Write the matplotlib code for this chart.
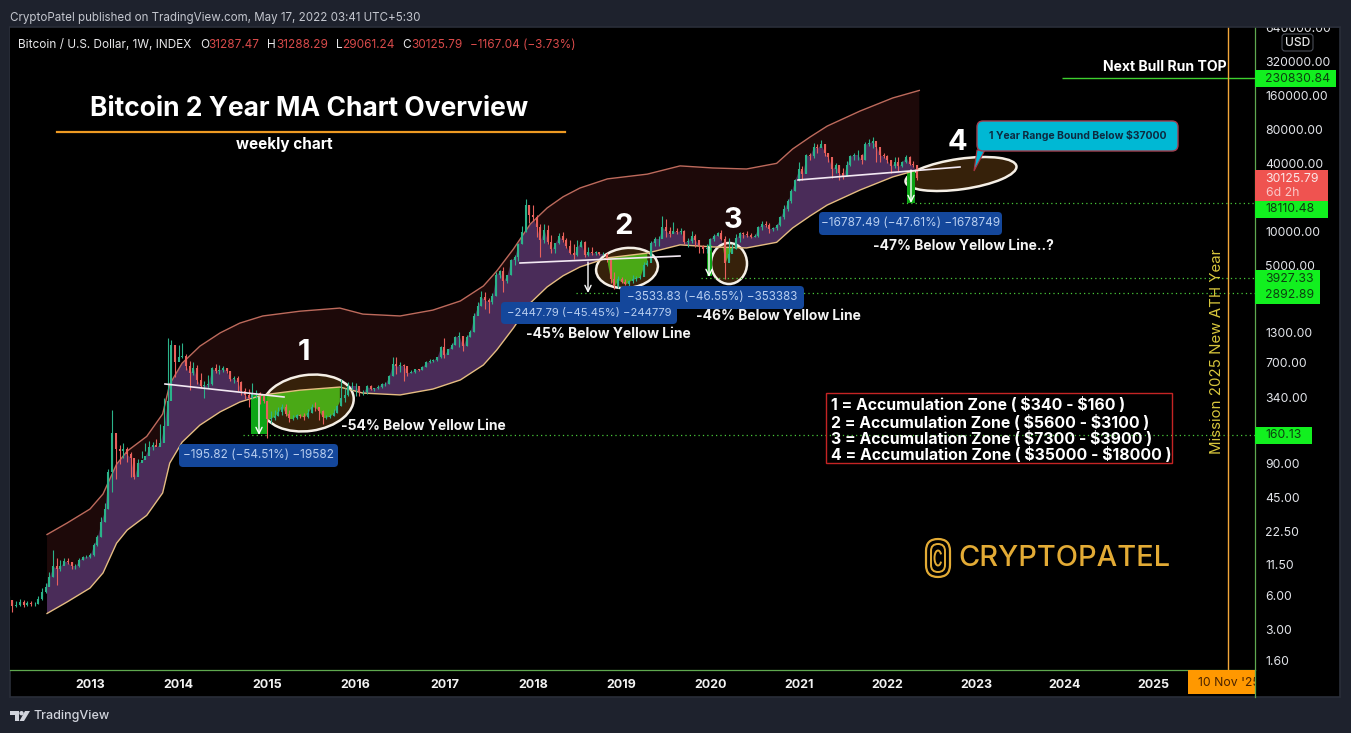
import numpy as np
import matplotlib
matplotlib.use("Agg")
import matplotlib.pyplot as plt
from matplotlib.patches import Rectangle, Ellipse, FancyBboxPatch, Polygon, Arc, Circle
from matplotlib.transforms import Affine2D, Bbox

plt.rcParams['font.family'] = ['Inter', 'DejaVu Sans']

W, H = 1351, 733

# ---------- price data (semi-monthly) ----------
close_2012 = [5.5, 4.9, 5.0, 5.3, 5.0, 5.2, 5.1, 5.1, 5.6, 6.5, 7.2, 8.9, 11, 10.5, 11, 12.2, 12, 11, 11, 12.4, 13.3, 13.4]
high_2012 = [6, 5.5, 5.4, 5.6, 5.5, 5.4, 5.4, 5.3, 6.0, 7, 7.8, 9.8, 15.4, 13, 12.5, 12.9, 13, 12, 11.5, 13, 13.6, 13.7]
low_2012 = [4.7, 4.3, 4.8, 4.9, 4.8, 4.9, 4.9, 4.9, 5.1, 5.5, 6.4, 7.4, 8.8, 7.5, 10, 11.5, 11.5, 10.5, 10.3, 10.9, 12.5, 13]
close_2013 = [13.7, 17, 20, 27, 35, 75, 165, 120, 115, 120, 108, 100, 68, 90, 95, 105, 125, 130, 125, 135, 190, 320, 1000, 700]
high_2013 = [14.5, 17.5, 21, 30, 40, 80, 266, 145, 130, 135, 125, 112, 97, 98, 115, 135, 140, 138, 147, 200, 340, 1163, 1100, 760]
low_2013 = [13, 13.5, 16.5, 20, 27, 35, 50, 65, 88, 100, 92, 68, 65, 88, 100, 115, 120, 118, 128, 135, 190, 320, 450, 520]
close_2014 = [780, 800, 650, 560, 630, 490, 430, 440, 450, 620, 590, 600, 620, 590, 500, 510, 470, 390, 360, 340, 370, 375, 350, 320]
high_2014 = [1000, 1050, 840, 720, 700, 660, 570, 480, 540, 640, 680, 660, 650, 620, 590, 530, 530, 480, 420, 405, 460, 400, 385, 350]
low_2014 = [720, 760, 600, 400, 540, 450, 420, 340, 420, 440, 570, 550, 575, 570, 480, 460, 390, 360, 330, 280, 335, 340, 300, 305]
close_2015 = [220, 225, 235, 255, 285, 245, 225, 225, 240, 235, 230, 250, 285, 280, 260, 230, 230, 235, 250, 290, 340, 360, 430, 430]
high_2015 = [320, 260, 265, 285, 300, 300, 265, 240, 245, 245, 250, 270, 300, 315, 270, 265, 240, 245, 270, 295, 500, 420, 470, 470]
low_2015 = [150, 205, 215, 235, 240, 235, 210, 215, 220, 225, 215, 225, 250, 260, 215, 200, 220, 225, 235, 250, 290, 310, 350, 400]
close_2016 = [430, 380, 380, 430, 410, 415, 425, 455, 455, 530, 680, 650, 660, 655, 570, 575, 610, 600, 640, 700, 715, 730, 780, 960]
high_2016 = [465, 420, 400, 440, 440, 420, 440, 460, 470, 540, 780, 780, 700, 680, 590, 600, 615, 610, 650, 720, 750, 750, 790, 970]
low_2016 = [350, 355, 360, 370, 400, 395, 410, 420, 435, 450, 530, 550, 580, 480, 530, 560, 570, 590, 600, 640, 690, 700, 720, 770]
close_2017 = [820, 920, 1000, 1180, 1200, 970, 1180, 1300, 1800, 2200, 2650, 2500, 2400, 2700, 4200, 4500, 3700, 4200, 5600, 6000, 7800, 10000, 17500, 14000]
high_2017 = [1150, 930, 1050, 1200, 1290, 1050, 1230, 1350, 1900, 2400, 2980, 2950, 2600, 2900, 4450, 4600, 4900, 4200, 5800, 6200, 8000, 11300, 19700, 17500]
low_2017 = [760, 880, 920, 1000, 950, 890, 970, 1170, 1300, 1900, 2200, 2100, 1900, 2300, 2700, 3950, 2950, 3500, 4200, 5100, 5500, 7800, 10000, 12000]
close_2018 = [13500, 11000, 8500, 10500, 8200, 7000, 8000, 9200, 8500, 7500, 6500, 6300, 7400, 8200, 6300, 6700, 6500, 6600, 6400, 6400, 5600, 3800, 3300, 3800]
high_2018 = [17200, 14000, 11800, 11700, 11500, 9400, 8000, 9800, 9900, 8800, 8500, 7750, 8500, 8450, 8300, 7300, 7400, 6800, 6700, 6600, 6500, 5700, 4400, 4100]
low_2018 = [12500, 9000, 6000, 8000, 7800, 6500, 6500, 7800, 8200, 7200, 6400, 5800, 6100, 7300, 6000, 6100, 6200, 6200, 6300, 6200, 5400, 3500, 3100, 3200]
close_2019 = [3600, 3450, 3650, 3800, 3900, 4000, 5100, 5300, 8000, 8700, 8700, 11000, 10300, 9500, 10200, 10000, 10300, 8200, 8300, 9200, 8500, 7500, 7100, 7200]
high_2019 = [4000, 3800, 3750, 4150, 4050, 4150, 5400, 5650, 8400, 9100, 9200, 13800, 13000, 11000, 12300, 10900, 10900, 10400, 8900, 10300, 9500, 7800, 7700, 7800]
low_2019 = [3500, 3400, 3350, 3550, 3700, 3850, 4050, 4950, 5500, 7500, 7500, 8800, 9100, 9100, 9800, 9500, 9600, 7800, 7300, 8000, 7300, 6500, 6500, 6500]
close_2020 = [8700, 9300, 9700, 8700, 5300, 6400, 7100, 8800, 9700, 9500, 9400, 9100, 9200, 11000, 11800, 11500, 10700, 10800, 11500, 13500, 16000, 18700, 23000, 29000]
high_2020 = [8900, 9600, 9900, 10500, 9300, 8800, 7800, 9500, 10000, 9950, 10300, 9800, 9600, 11400, 12400, 12400, 12000, 11100, 11700, 13800, 17200, 19400, 24000, 29300]
low_2020 = [6900, 8250, 9150, 8450, 3850, 5700, 6500, 7000, 8100, 8800, 9000, 8900, 8950, 9000, 10500, 11000, 9850, 10200, 10400, 11400, 13000, 15400, 18000, 23000]
close_2021 = [36000, 32500, 48000, 47000, 57000, 55000, 60000, 50000, 46000, 36000, 39000, 33000, 31500, 39500, 47000, 48000, 48000, 43000, 60000, 61000, 64000, 57000, 48000, 47000]
high_2021 = [42000, 38000, 49000, 49500, 61000, 60000, 64800, 60000, 50000, 42000, 41000, 39000, 37000, 42500, 48000, 50500, 52800, 49000, 62000, 67000, 69000, 60000, 52000, 50000]
low_2021 = [28000, 28800, 33000, 43000, 45000, 50000, 57000, 47000, 42000, 30000, 33000, 29000, 29300, 31000, 38000, 43000, 43000, 40000, 43000, 58000, 55000, 42000, 42000, 45000]
close_2022 = [43000, 38000, 42000, 38000, 42000, 46000, 40000, 39000, 30125.79]
high_2022 = [47800, 43500, 45700, 45800, 42500, 48200, 47000, 42800, 32500]
low_2022 = [40700, 33000, 36500, 34500, 37500, 41000, 39200, 37500, 29061.24]

# 2-year moving average and its x5 multiple
ma_years = [2012.515, 2012.74, 2013.0, 2013.147, 2013.30, 2013.42, 2013.64, 2013.82, 2013.90, 2014.04, 2014.24,
            2014.47, 2014.69, 2014.95, 2015.37, 2015.82, 2016.08, 2016.50, 2016.87, 2017.18, 2017.44, 2017.59,
            2017.78, 2017.97, 2018.16, 2018.34, 2018.53, 2018.84, 2019.29, 2019.66, 2020.03, 2020.41, 2020.75,
            2020.93, 2021.13, 2021.32, 2021.69, 2022.06, 2022.36]
ma_2y = [4.2, 5.3, 7.05, 9.6, 17.6, 23, 31, 49, 90, 138, 195,
         256, 312, 361, 398, 424, 375, 361, 407, 490, 665, 901,
         1416, 2353, 3265, 4100, 4900, 5900, 6500, 7690, 7370, 7220, 8100,
         10850, 13900, 17300, 23500, 30700, 35800]
ma_x5 = [21, 26.5, 35.3, 48, 88, 115, 155, 245, 450, 690, 975,
         1280, 1560, 1805, 1990, 2120, 1875, 1805, 2035, 2450, 3325, 4505,
         7080, 11765, 16325, 20500, 24500, 29500, 32500, 38450, 36850, 36100, 40500,
         54250, 69500, 86500, 117500, 153500, 179000]

x_ticks = [2013, 2014, 2015, 2016, 2017, 2018, 2019, 2020, 2021, 2022, 2023, 2024, 2025]
y_ticks = [640000, 320000, 160000, 80000, 40000, 10000, 5000, 2600, 1300, 700, 340, 90, 45, 22.5, 11.5, 6, 3, 1.6]

level_top = 230830.84
level_18k, level_3927, level_2892, level_160 = 18110.48, 3927.33, 2892.89, 160.13
last_close = 30125.79

close = np.array(close_2012 + close_2013 + close_2014 + close_2015 + close_2016 + close_2017 + close_2018 + close_2019 + close_2020 + close_2021 + close_2022, float)
high = np.array(high_2012 + high_2013 + high_2014 + high_2015 + high_2016 + high_2017 + high_2018 + high_2019 + high_2020 + high_2021 + high_2022, float)
low = np.array(low_2012 + low_2013 + low_2014 + low_2015 + low_2016 + low_2017 + low_2018 + low_2019 + low_2020 + low_2021 + low_2022, float)
years = 2012 + (2 + np.arange(len(close))) / 24
opens = np.r_[close[0], close[:-1]]
ma_x, ma_v, up_v = np.array(ma_years), np.array(ma_2y, float), np.array(ma_x5, float)

# ---------- colours ----------
FRAME = '#1e222d'; BORDER = '#2a2e39'
GREEN_AX = '#5fa84f'; TAG_GREEN = '#12f01f'; TAG_RED = '#ef5350'; ORANGE = '#f3a73a'
MAROON = '#1d0909'; PURPLE = '#4a2c59'; UPPER = '#bd6a5c'; LOWER = '#e5bd82'
ZONE = '#36210a'; ZGREEN = '#4aa916'; BLUE = '#14479b'; LABEL = '#b8cef0'

# ---------- figure / axes ----------
fig = plt.figure(figsize=(W / 100, H / 100), dpi=100, facecolor=FRAME)
pix = Affine2D().scale(1 / W, -1 / H).translate(0, 1) + fig.transFigure
fig.add_artist(Rectangle((10, 27), 1330, 670, transform=pix, fc='black', ec=BORDER, lw=1.2, zorder=-1))

ax = fig.add_axes([10 / W, 1 - 670 / H, 1245 / W, 643 / H], facecolor='black')
ax.set_yscale('log')
ax.set_xlim(2013 + (10 - 90) / 88.6, 2013 + (1255 - 90) / 88.6)
ax.set_ylim(1.327, 652000)
ax.yaxis.tick_right()
ax.set_yticks(y_ticks)
ax.set_yticklabels([f'{v:.2f}' for v in y_ticks], fontsize=8.8, color='#e3e5ea', ha='left')
ax.minorticks_off()
ax.set_xticks(x_ticks)
ax.set_xticklabels([str(v) for v in x_ticks], fontsize=9, fontweight='bold', color='#f2f2f2')
ax.tick_params(axis='y', length=0, pad=7.5)
ax.tick_params(axis='x', length=0, pad=6.2)
for s in ('top', 'left'):
    ax.spines[s].set_visible(False)
for s in ('bottom', 'right'):
    ax.spines[s].set_color(GREEN_AX)
    ax.spines[s].set_linewidth(0.9)

# ---------- MA band, filled between close and band edges ----------
band_poly = Polygon(np.c_[np.r_[ma_x, ma_x[::-1]], np.r_[up_v, ma_v[::-1]]], closed=True, fc=MAROON, ec='none', zorder=1)
ax.add_patch(band_poly)
under = ax.fill_between(years, close, 1.0, color=PURPLE, lw=0, zorder=1.2)
under.set_clip_path(band_poly)

# ---------- accumulation ellipses ----------
ellipses = [(308, 403, 92, 56, -8), (627, 268, 62, 40, -6), (729, 263.5, 36, 41, 0), (961, 174, 112, 30.5, -8)]
for cx, cy, w, h, ang in ellipses:
    ax.add_patch(Ellipse((cx, cy), w, h, angle=ang, transform=pix, fc=ZONE, ec='#f5efe6', lw=1.8, zorder=1.4))

# green areas between the MA line and the price, inside zones 1, 2 and 3
zones = [(2014.97, 2015.9), (2018.84, 2019.3), (2020.05, 2020.42)]
for a, b in zones:
    m = (ma_x >= a - 0.02) & (ma_x <= b + 0.12)
    zx, zy = ma_x[m], ma_v[m]
    clip = Polygon(np.r_[np.c_[zx, zy], [[zx[-1], 1.0], [zx[0], 1.0]]], closed=True, transform=ax.transData, fc='none', ec='none')
    ax.add_patch(clip)
    f = ax.fill_between(years, close, 1e7, color=ZGREEN, lw=0, zorder=1.5)
    f.set_clip_path(clip)

# green measure rectangles (price ranges in dollars)
measure_x = [(2014.82, 2015.0), (2019.96, 2020.02), (2022.22, 2022.31)]
measure_top = [359, 7640, 34897]
measure_low = [163.18, 4117, 18110]
for (a, b), t, l in zip(measure_x, measure_top, measure_low):
    ax.add_patch(Rectangle((a, l), b - a, t - l, fc='#0da516', ec='none', zorder=1.6))

# ---------- MA lines ----------
ax.plot(ma_x, ma_v, color=LOWER, lw=1.0, zorder=2)
ax.plot(ma_x, up_v, color=UPPER, lw=1.0, zorder=2)

# ---------- candles ----------
col = np.where(close >= opens, '#2bb38a', '#e8605c')
ax.vlines(years, low, high, colors=col, lw=0.8, zorder=3)
ax.vlines(years, opens, close, colors=col, lw=1.5, zorder=3.1)

# ---------- horizontal levels ----------
ax.hlines(level_top, 2013 + (1062 - 90) / 88.6, ax.get_xlim()[1], color='#3ecf2f', lw=1, zorder=2)
for lvl, x0 in [(level_18k, 902), (level_3927, 701), (level_2892, 576), (level_160, 243)]:
    ax.hlines(lvl, 2013 + (x0 - 90) / 88.6, ax.get_xlim()[1], color='#49c83a', lw=0.9, ls=(0, (1, 2.5)), zorder=2)

# ---------- white trend lines, arrows ----------
for (x0, y0, x1, y1) in [(165, 384, 284, 397), (520, 263, 680, 256), (798, 180, 960, 167)]:
    ax.plot([x0, x1], [y0, y1], transform=pix, color='#f3e9f3', lw=1.2, zorder=4)
for (x, y0, y1) in [(259, 397, 435), (588, 262, 293), (709, 247, 277), (911, 170, 203)]:
    ax.annotate('', xy=(x, y1), xytext=(x, y0), xycoords=pix, textcoords=pix, zorder=4,
                arrowprops=dict(arrowstyle='->', color='white', lw=1, shrinkA=0, shrinkB=0, mutation_scale=11))

# ---------- orange date line ----------
ax.plot([1228, 1228], [27, 670], transform=pix, color=ORANGE, lw=1, zorder=2)

def T(x, y, s, **kw):
    kw.setdefault('color', 'white')
    kw.setdefault('va', 'center')
    kw.setdefault('ha', 'left')
    kw.setdefault('zorder', 12)
    kw.setdefault('clip_on', False)
    return ax.text(x, y, s, transform=pix, **kw)

def box(x0, y0, x1, y1, fc, r=2, ec='none', lw=0, z=6):
    ax.add_patch(FancyBboxPatch((x0 + r, y0 + r), x1 - x0 - 2 * r, y1 - y0 - 2 * r, boxstyle=f'round,pad={r},rounding_size={r}',
                                transform=pix, fc=fc, ec=ec, lw=lw, clip_on=False, zorder=z))

# top frame cover (clips the 640000 label) and header
ax.add_patch(Rectangle((0, 0), W, 27, transform=pix, fc=FRAME, ec='none', clip_on=False, zorder=9))
ax.plot([10, 1340], [27, 27], transform=pix, color=BORDER, lw=1.2, clip_on=False, zorder=10)
T(10, 18, 'CryptoPatel published on TradingView.com, May 17, 2022 03:41 UTC+5:30', fontsize=8.35, color='#c3c6ce')
T(18, 45, 'Bitcoin / U.S. Dollar, 1W, INDEX', fontsize=8.5, color='#e8e8ea')
RED = '#d84a4a'
for x, lab, xv, val in [(200, 'O', 208.5, '31287.47'), (267, 'H', 276, '31288.29'), (336, 'L', 342.5, '29061.24'), (402.6, 'C', 411, '30125.79')]:
    T(x, 45, lab, fontsize=8.5, color='#e8e8ea')
    T(xv, 45, val, fontsize=8.5, color=RED)
T(470, 45, '−1167.04 (−3.73%)', fontsize=8.5, color=RED)

# title
T(309.5, 108.5, 'Bitcoin 2 Year MA Chart Overview', fontsize=19, fontweight='bold', ha='center')
ax.plot([57, 565], [132, 132], transform=pix, color='#ee9a22', lw=1.6, zorder=5)
T(284, 144.5, 'weekly chart', fontsize=11, fontweight='bold', ha='center')

# annotation numbers
for x, y, s in [(304, 352, '1'), (624, 226, '2'), (733, 220, '3'), (957, 143, '4')]:
    T(x, y, s, fontsize=21, fontweight='bold', ha='center')

# blue measure labels
for x0, y0, x1, y1, s, fs in [(179, 444, 338, 467, '−195.82 (−54.51%) −19582', 8.5),
                              (501, 302, 677, 324, '−2447.79 (−45.45%) −244779', 8.1),
                              (620, 286, 804, 309, '−3533.83 (−46.55%) −353383', 8.4),
                              (819, 212, 1002, 235, '−16787.49 (−47.61%) −1678749', 8.5)]:
    box(x0, y0, x1, y1, BLUE, r=4)
    T((x0 + x1) / 2, (y0 + y1) / 2, s, fontsize=fs, color=LABEL, ha='center')

# white zone captions
for x, y, s in [(341, 426, '-54% Below Yellow Line'), (526, 334, '-45% Below Yellow Line'),
                (696, 316, '-46% Below Yellow Line'), (873, 246, '-47% Below Yellow Line..?')]:
    T(x, y, s, fontsize=10, fontweight='bold', color='#f4f4f4')

# accumulation list
ax.add_patch(Rectangle((826, 393), 346, 70, transform=pix, fc='none', ec='#c52424', lw=1, zorder=6))
for y, s in [(405.5, r'1 = Accumulation Zone ( \$340 - \$160 )'), (422.5, r'2 = Accumulation Zone ( \$5600 - \$3100 )'),
             (438.5, r'3 = Accumulation Zone ( \$7300 - \$3900 )'), (454.5, r'4 = Accumulation Zone ( \$35000 - \$18000 )')]:
    T(831, y, s, fontsize=11.4, fontweight='bold')

# callout
ax.add_patch(Polygon([[977, 150], [985, 150], [974, 171]], closed=True, transform=pix, fc='#00b8d4', ec='#b03040', lw=0.8, zorder=6))
box(977, 121, 1178, 151, '#00b8d4', r=6, ec='#a34050', lw=1)
T(1078, 135.5, r'1 Year Range Bound Below \$37000', fontsize=7.5, fontweight='bold', color='#0d2a40', ha='center')
T(1103, 67, 'Next Bull Run TOP', fontsize=10.1, fontweight='bold')
T(1217, 351, 'Mission 2025 New ATH Year', fontsize=10.8, color='#d8c63c', rotation=90, ha='center')

# watermark
GOLD = '#e3ab35'
T(958, 558, 'CRYPTOPATEL', fontsize=20.9, fontweight='medium', color=GOLD)
for (x0, y0, x1, y1, r, lw) in [(926, 539, 950, 577, 12, 1.6), (931, 544, 945, 572, 7, 1.4)]:
    box(x0, y0, x1, y1, 'none', r=r, ec=GOLD, lw=lw)
ax.add_patch(Arc((938, 558), 7, 15, theta1=50, theta2=310, transform=pix, color=GOLD, lw=1.4, zorder=6))

# price-scale tags
def tag(x1, y0, y1, s, fc, fg='#0c3f10'):
    ax.add_patch(Rectangle((1255, y0), x1 - 1255, y1 - y0, transform=pix, fc=fc, ec='none', clip_on=False, zorder=7))
    T(1265.5, (y0 + y1) / 2, s, fontsize=8.8, color=fg)

tag(1336, 70, 87, f'{level_top:.2f}', TAG_GREEN)
tag(1328, 170, 201, '', TAG_RED)
T(1265.5, 178.5, f'{last_close:.2f}', fontsize=8.8, color='#fbe6e6')
T(1265.5, 192.5, '6d 2h', fontsize=8.8, color='#f9c7c7')
tag(1328, 201, 218, f'{level_18k:.2f}', TAG_GREEN)
tag(1320, 270, 287, f'{level_3927:.2f}', TAG_GREEN)
tag(1320, 287, 304, f'{level_2892:.2f}', TAG_GREEN)
tag(1312, 427, 444, f'{level_160:.2f}', TAG_GREEN)
box(1282, 34, 1313, 51, 'black', r=3, ec='#4a4e58', lw=0.8, z=8)
T(1297.5, 42.5, 'USD', fontsize=8.6, fontweight='medium', ha='center', color='#e6e6e6')

# date tag, clipped at the price scale
ax.add_patch(Rectangle((1188, 670), 67, 24, transform=pix, fc='#ff9800', ec='none', clip_on=False, zorder=7))
t = T(1197.5, 683, "10 Nov '25", fontsize=8.8, color='#4a2300')
t.set_clip_on(True)
t.set_clip_box(Bbox([[1188, H - 694], [1255, H - 670]]))
ax.plot([1255, 1255], [670, 697], transform=pix, color=GREEN_AX, lw=0.9, clip_on=False, zorder=8)

# TradingView mark
TV = '#d1d4dc'
ax.add_patch(Polygon([[10, 711], [19, 711], [19, 721], [14.5, 721], [14.5, 715], [10, 715]], closed=True, transform=pix, fc=TV, ec='none', clip_on=False, zorder=8))
ax.add_patch(Circle((21.5, 713.2), 2.2, transform=pix, fc=TV, ec='none', clip_on=False, zorder=8))
ax.add_patch(Polygon([[19.5, 721], [25, 711], [30, 711], [24, 721]], closed=True, transform=pix, fc=TV, ec='none', clip_on=False, zorder=8))
T(33, 715.5, 'TradingView', fontsize=9, fontweight='medium', color=TV)

fig.savefig('out.png', dpi=100, facecolor=FRAME)
